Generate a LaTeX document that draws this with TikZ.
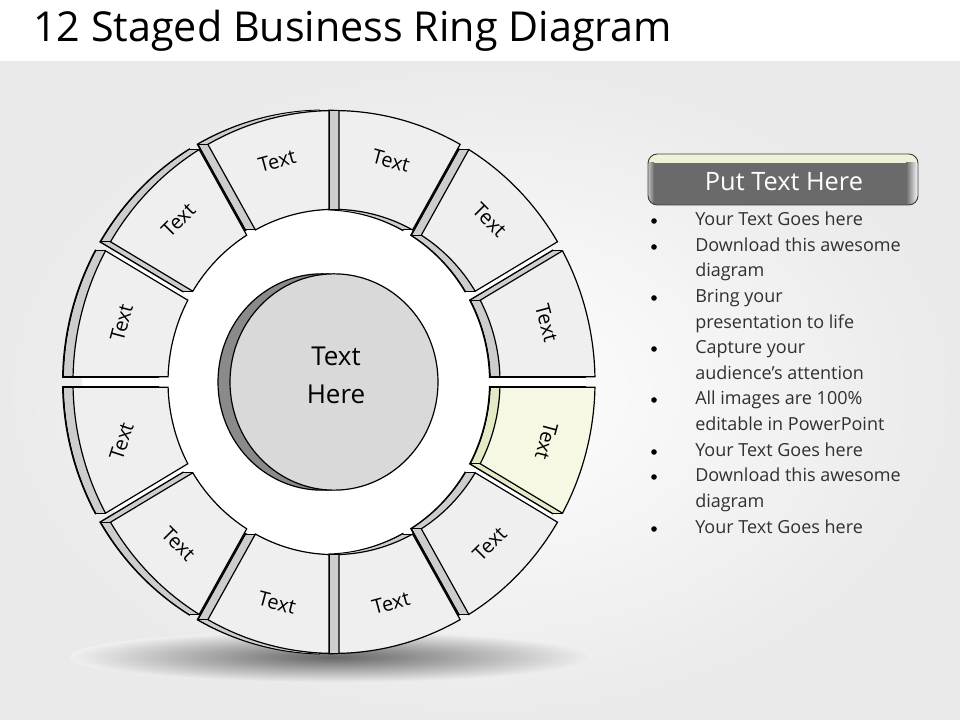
\documentclass[tikz,border=0pt]{standalone}
\usepackage{fontspec}
\setmainfont{Open Sans}
\usetikzlibrary{calc}
\definecolor{segfill}{HTML}{EFEFEF}
\definecolor{segside}{HTML}{CDCDCD}
\definecolor{hlfill}{HTML}{F6F8E4}
\definecolor{hlside}{HTML}{E3EAC6}
\definecolor{discdark}{HTML}{8A8A8A}
\definecolor{disclight}{HTML}{D9D9D9}
\definecolor{btndark}{HTML}{6A6A6A}
\definecolor{btntop}{HTML}{EEF2D6}
\definecolor{bodytext}{HTML}{303030}
\definecolor{bgedge}{HTML}{EAEAEA}
\definecolor{shadowbg}{HTML}{F0F0F0}
\newcommand\segshape[1]{(#1+1.1:261) arc[start angle=#1+1.1, end angle=#1+28.9, radius=261] -- (#1+28.27:166) arc[start angle=#1+28.27, end angle=#1+1.73, radius=166] -- cycle}
\begin{document}
\begin{tikzpicture}[x=0.75pt,y=0.75pt,
  seglabel/.style={font=\fontsize{15}{18}\selectfont, text=black, inner sep=0pt},
  segfront/.style={draw=black, line width=0.9pt},
  bodyline/.style={anchor=base west, font=\fontsize{13.5}{16}\selectfont, text=bodytext, inner sep=0pt},
  bulletdot/.style={circle, fill=black, inner sep=0pt, minimum size=4.2pt}]
\useasboundingbox (0,0) rectangle (960,720);
% background
\fill[white] (0,0) rectangle (960,720);
\shade[inner color=white, outer color=bgedge] (0,0) rectangle (960,658);
% title
\node[anchor=base west, inner sep=0pt] (title) at (33,678) {\resizebox{479pt}{!}{\fontsize{26}{30}\selectfont 12 Staged Business Ring Diagram}};
% shadow
\shade[inner color=black!60, outer color=shadowbg] (332,63) ellipse[x radius=262, y radius=26];
% ring
\begin{scope}[shift={(334,338)}, yscale=1.04]
  \fill[white] (0,0) circle[radius=252];
  \foreach \a/\f/\s in {0/segfill/segside,30/segfill/segside,60/segfill/segside,90/segfill/segside,120/segfill/segside,150/segfill/segside,180/segfill/segside,210/segfill/segside,240/segfill/segside,270/segfill/segside,300/segfill/segside,330/hlfill/hlside}{
    \filldraw[fill=\s, draw=black, line width=1.5pt, shift={(-10,0)}] \segshape{\a};
    \foreach \t in {1,...,9}{\fill[\s, shift={(-\t,0)}] \segshape{\a};}
    \draw[line width=0.8pt] (\a+1.1:261) -- ++(-10,0) (\a+28.9:261) -- ++(-10,0) (\a+28.27:166) -- ++(-10,0) (\a+1.73:166) -- ++(-10,0);
  }
  \foreach \a/\f/\s in {0/segfill/segside,30/segfill/segside,60/segfill/segside,90/segfill/segside,120/segfill/segside,150/segfill/segside,180/segfill/segside,210/segfill/segside,240/segfill/segside,270/segfill/segside,300/segfill/segside,330/hlfill/hlside}{
    \filldraw[segfront, fill=\f] \segshape{\a};
  }
  \foreach \i/\a/\r in {1/15/-75,2/45/-45,3/75/-15,4/105/15,5/135/45,6/165/75,7/195/72,8/225/-45,9/255/-15,10/285/15,11/315/45,12/345/-105}{
    \node[seglabel, rotate=\r] (l\i) at (\a:220) {Text};
  }
  % center disc
  \filldraw[fill=discdark, draw=black, line width=0.9pt] (-12,0) circle[radius=104];
  \filldraw[fill=disclight, draw=black, line width=0.9pt] (0,0) circle[radius=104];
\end{scope}
\node[align=center, font=\fontsize{19.5}{28.5}\selectfont, inner sep=0pt] (center) at (336,345) {Text\\Here};
% button
\begin{scope}
  \clip[rounded corners=7] (648,566) rectangle (918,515);
  \fill[btntop] (648,566) rectangle (918,557);
  \fill[btndark] (648,557) rectangle (918,515);
  \shade[left color=btndark, right color=white] (906,557) rectangle (918,515);
  \shade[left color=white!60!btndark, right color=btndark] (648,557) rectangle (654,515);
\end{scope}
\draw[rounded corners=7, draw=black!75, line width=0.7pt] (648,566) rectangle (918,515);
\node[text=white, font=\fontsize{19}{22}\selectfont, inner sep=0pt] (btn) at (784,538) {Put Text Here};
% bullet list
\foreach \n/\y/\txt/\b in {1/226/Your Text Goes here/1,2/252/Download this awesome/1,3/277/diagram/0,4/303/Bring your/1,5/329/presentation to life/0,6/354/Capture your/1,7/380/audience’s attention/0,8/405/All images are 100\%/1,9/431/editable in PowerPoint/0,10/457/Your Text Goes here/1,11/482/Download this awesome/1,12/508/diagram/0,13/534/Your Text Goes here/1}{
  \node[bodyline] (t\n) at (695,720-\y) {\txt};
  \ifnum\b=1 \node[bulletdot] (b\n) at (654,720-\y+5) {};\fi
}
\end{tikzpicture}
\end{document}
